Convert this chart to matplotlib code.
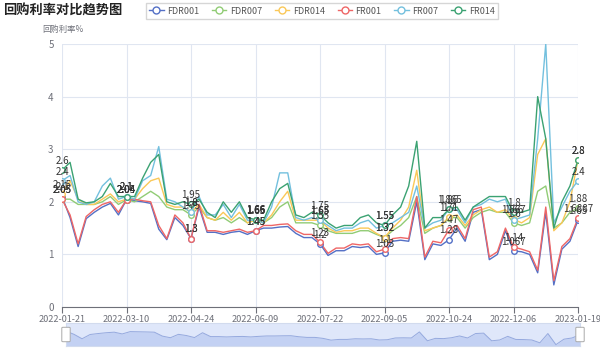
import matplotlib.pyplot as plt
import numpy as np
from matplotlib.patches import FancyBboxPatch
from matplotlib.lines import Line2D

plt.rcParams['font.family'] = ['Noto Sans CJK SC', 'DejaVu Sans']

title = "回购利率对比趋势图"
y_name = "回购利率%"
tick_labels = ["2022-01-21", "2022-03-10", "2022-04-24", "2022-06-09", "2022-07-22",
               "2022-09-05", "2022-10-24", "2022-12-06", "2023-01-19"]
names = ["FDR001", "FDR007", "FDR014", "FR001", "FR007", "FR014"]
colors = ["#5470c6", "#91cc75", "#fac858", "#ee6666", "#73c0de", "#3ba272"]

# values, about one point per week
fdr001 = [2.1, 1.7, 1.15, 1.68, 1.8, 1.9, 1.97, 1.75, 2.04, 2.02, 2.0, 1.97, 1.48, 1.28, 1.7, 1.55,
          1.3, 1.9, 1.42, 1.42, 1.38, 1.42, 1.44, 1.38, 1.45, 1.5, 1.5, 1.52, 1.53, 1.4, 1.32, 1.32,
          1.2, 0.98, 1.07, 1.07, 1.15, 1.13, 1.15, 1.0, 1.03, 1.25, 1.27, 1.25, 2.0, 0.9, 1.2, 1.17,
          1.28, 1.5, 1.25, 1.8, 1.85, 0.9, 1.0, 1.45, 1.067, 1.05, 1.0, 0.65, 1.8, 0.42, 1.1, 1.25,
          1.65]
fdr007 = [2.05, 2.05, 1.95, 1.95, 1.95, 2.0, 2.1, 1.95, 2.04, 2.0, 2.1, 2.2, 2.1, 1.9, 1.85, 1.85,
          1.75, 1.9, 1.7, 1.65, 1.7, 1.6, 1.7, 1.6, 1.66, 1.6, 1.7, 1.9, 2.0, 1.6, 1.6, 1.6,
          1.55, 1.45, 1.4, 1.4, 1.4, 1.45, 1.45, 1.38, 1.32, 1.45, 1.55, 1.7, 2.1, 1.4, 1.5, 1.55,
          1.7, 1.7, 1.5, 1.7, 1.8, 1.85, 1.8, 1.8, 1.6, 1.55, 1.6, 2.2, 2.3, 1.5, 1.6, 1.8,
          1.88]
fdr014 = [2.15, 2.4, 2.05, 1.95, 1.95, 2.05, 2.15, 2.0, 2.05, 2.05, 2.25, 2.4, 2.45, 1.95, 1.9, 1.9,
          1.8, 1.95, 1.7, 1.65, 1.8, 1.65, 1.8, 1.6, 1.65, 1.6, 1.75, 2.0, 2.2, 1.65, 1.65, 1.65,
          1.65, 1.5, 1.42, 1.45, 1.45, 1.5, 1.5, 1.4, 1.32, 1.5, 1.65, 1.9, 2.6, 1.45, 1.5, 1.55,
          1.71, 1.75, 1.55, 1.75, 1.85, 1.9, 1.8, 1.85, 1.667, 1.6, 1.7, 2.9, 3.2, 1.45, 1.6, 2.0,
          2.8]
fr001 = [2.05, 1.75, 1.2, 1.72, 1.85, 1.95, 2.0, 1.8, 2.04, 2.05, 2.02, 2.0, 1.55, 1.3, 1.75, 1.6,
         1.3, 1.95, 1.45, 1.45, 1.42, 1.45, 1.48, 1.42, 1.45, 1.55, 1.55, 1.57, 1.58, 1.45, 1.38, 1.38,
         1.23, 1.02, 1.12, 1.12, 1.2, 1.18, 1.2, 1.05, 1.1, 1.3, 1.32, 1.3, 2.1, 0.95, 1.25, 1.22,
         1.47, 1.55, 1.3, 1.85, 1.9, 0.95, 1.05, 1.5, 1.14, 1.1, 1.05, 0.7, 1.9, 0.5, 1.15, 1.3,
         1.6887]
fr007 = [2.4, 2.5, 2.0, 1.95, 2.0, 2.3, 2.45, 2.05, 2.1, 2.05, 2.4, 2.5, 3.05, 2.05, 2.0, 1.9,
         1.8, 2.1, 1.75, 1.75, 1.95, 1.7, 1.95, 1.65, 1.65, 1.6, 1.9, 2.55, 2.55, 1.7, 1.65, 1.7,
         1.65, 1.55, 1.45, 1.5, 1.5, 1.6, 1.65, 1.5, 1.55, 1.6, 1.7, 1.8, 2.3, 1.5, 1.6, 1.65,
         1.865, 1.85, 1.6, 1.9, 1.95, 2.05, 2.0, 2.05, 1.66, 1.7, 1.75, 3.2, 5.0, 1.6, 1.9, 2.2,
         2.4]
fr014 = [2.6, 2.75, 2.05, 1.98, 2.0, 2.1, 2.35, 2.1, 2.1, 2.1, 2.45, 2.75, 2.9, 2.0, 1.95, 2.0,
         1.95, 2.05, 1.8, 1.7, 2.0, 1.8, 2.0, 1.7, 1.66, 1.65, 2.0, 2.25, 2.35, 1.75, 1.7, 1.8,
         1.75, 1.6, 1.5, 1.55, 1.55, 1.7, 1.75, 1.6, 1.55, 1.75, 1.9, 2.3, 3.15, 1.5, 1.7, 1.7,
         1.86, 1.9, 1.65, 1.9, 2.0, 2.1, 2.1, 2.1, 1.8, 1.8, 1.85, 4.0, 3.2, 1.5, 2.0, 2.3,
         2.8]

all_series = [fdr001, fdr007, fdr014, fr001, fr007, fr014]
x = np.arange(len(fdr001))
tick_pos = np.arange(0, len(fdr001), 8)

W, H = 600, 355
fig = plt.figure(figsize=(6, 3.55), dpi=100)
ax = fig.add_axes([62 / W, 48 / H, 516 / W, 263 / H])

for vals, name, c in zip(all_series, names, colors):
    vals = np.array(vals)
    ax.plot(x, vals, color=c, lw=1.0, label=name, zorder=3)
    ax.plot(x[tick_pos], vals[tick_pos], 'o', ms=4, mfc='white', mec=c, mew=1.0, zorder=4)
    for i in tick_pos:
        ax.text(i, vals[i] + 0.08, f"{vals[i]:g}", ha='center', va='bottom',
                fontsize=7, color='#333333', zorder=5)

ax.set_xlim(0, len(fdr001) - 1)
ax.set_ylim(0, 5)
ax.set_yticks(range(6))
ax.set_xticks(tick_pos)
ax.set_xticklabels(tick_labels)
ax.grid(True, color='#e0e6f1', lw=0.8)
ax.set_axisbelow(True)
for s in ['top', 'right', 'left']:
    ax.spines[s].set_visible(False)
ax.spines['bottom'].set_color('#6e7079')
ax.tick_params(axis='y', length=0, labelsize=7, colors='#6e7079', pad=6)
ax.tick_params(axis='x', length=4, color='#6e7079', labelsize=6.6, labelcolor='#6e7079', pad=2)

fig.text(3 / W, 1 - 11 / H, title, fontsize=9.5, fontweight='bold', color='#222222', va='center')
fig.text(42 / W, 1 - 29 / H, y_name, fontsize=6, color='#6e7079', va='center')

# legend
handles = [Line2D([], [], color=c, lw=1.0, marker='o', ms=5, mfc='white', mec=c) for c in colors]
leg = fig.legend(handles, names, loc='center', bbox_to_anchor=(322 / W, 1 - 11 / H), ncol=6,
                 fontsize=6.5, frameon=True, handlelength=1.6, columnspacing=1.4,
                 handletextpad=0.4, borderpad=0.35, fancybox=False, edgecolor='#cccccc')
for t in leg.get_texts():
    t.set_color('#555555')

# data zoom slider
sax = fig.add_axes([66 / W, 9 / H, 514 / W, 23 / H])
sax.set_xlim(0, len(fdr001) - 1)
lo, hi = min(fdr001), max(fdr001)
sax.set_ylim(lo - 0.1 * (hi - lo), hi + 0.6 * (hi - lo))
sax.set_facecolor('#dfe7fa')
sax.fill_between(x, lo - 0.1 * (hi - lo), fdr001, color='#c3d1f3', lw=0)
sax.plot(x, fdr001, color='#95a9de', lw=0.7)
sax.set_xticks([])
sax.set_yticks([])
for s in sax.spines.values():
    s.set_color('#d2dbee')
for hx in [66, 580]:
    fig.add_artist(FancyBboxPatch(((hx - 3) / W, 14 / H), 6 / W, 13 / H,
                                  boxstyle='round,pad=0.002', fc='white', ec='#aaaaaa', lw=0.7,
                                  transform=fig.transFigure))

fig.savefig('out.png', dpi=100)
